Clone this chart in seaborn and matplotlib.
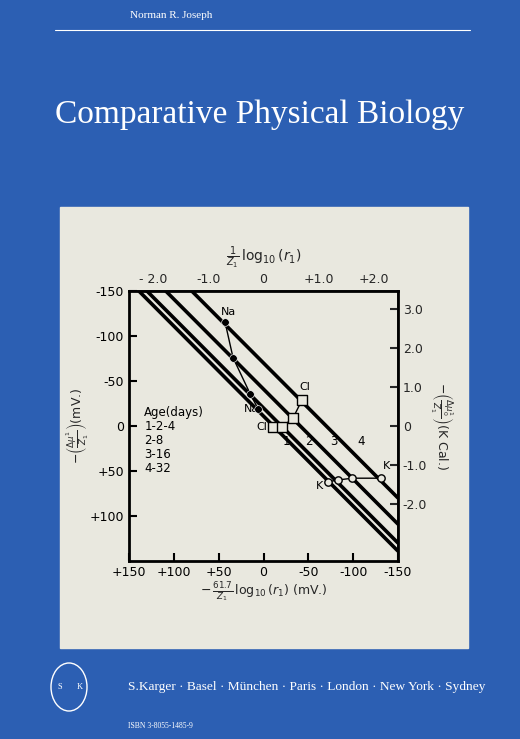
import numpy as np
import pandas as pd
import seaborn as sns
import matplotlib
matplotlib.use("Agg")
import matplotlib.pyplot as plt
from matplotlib.patches import Rectangle, Ellipse

# line offsets: y = -x + c  (mV)
line_names = ["1", "2", "3", "4"]
line_offsets = [-11, -20, -41, -70]

na_x = [43, 34, 15, 6]
na_y = [-116, -76, -36, -19]
cl_x = [-11, -21, -33, -43]
cl_y = [1, 1, -9, -29]
k_x = [-72, -83, -99, -131]
k_y = [62, 60, 58, 58]

age_labels = ["Age(days)", "1-2-4", "2-8", "3-16", "4-32"]

blue = "#2c5fb3"
paper = "#e9e8df"

sns.set_theme(style="white")
plt.rcParams['font.family'] = ['DejaVu Sans']
plt.rcParams['text.color'] = "black"

fig = plt.figure(figsize=(5.2, 7.39), dpi=100)
fig.patch.set_facecolor(blue)
fig.patches.append(Rectangle((60 / 520, 1 - 648 / 739), 408 / 520, 441 / 739,
                             transform=fig.transFigure, color=paper, zorder=-10))
fig.add_artist(plt.Line2D([55 / 520, 470 / 520], [1 - 30 / 739] * 2, color="white", lw=0.8))
fig.text(130 / 520, 1 - 16 / 739, "Norman R. Joseph", color="white", fontsize=8,
         family="Liberation Serif", va="center")
fig.text(0.5, 1 - 115 / 739, "Comparative Physical Biology", color="white", fontsize=24,
         family="Liberation Serif", ha="center", va="center")
fig.text(128 / 520, 1 - 687 / 739, "S.Karger · Basel · München · Paris · London · New York · Sydney",
         color="white", fontsize=9.6, family="Liberation Serif", va="center")
fig.text(128 / 520, 1 - 726 / 739, "ISBN 3-8055-1485-9", color="white", fontsize=5.5,
         family="Liberation Serif", va="center")
fig.patches.append(Ellipse((69 / 520, 1 - 687 / 739), 36 / 520, 48 / 739, transform=fig.transFigure,
                           fill=False, ec="white", lw=1))
fig.text(57 / 520, 1 - 687 / 739, "S", color="white", fontsize=6, family="Liberation Serif", va="center")
fig.text(77 / 520, 1 - 687 / 739, "K", color="white", fontsize=6, family="Liberation Serif", va="center")

ax = fig.add_axes([129 / 520, 1 - 561 / 739, 269 / 520, 270 / 739])
ax.set_zorder(5)
ax.set_facecolor(paper)
xs = np.array([150, -150])
for name, c in zip(line_names, line_offsets):
    df = pd.DataFrame({"x": xs, "y": -xs + c})
    sns.lineplot(data=df, x="x", y="y", ax=ax, color="black", lw=2.6, sort=False)

sns.lineplot(x=na_x, y=na_y, ax=ax, color="black", lw=1, sort=False)
sns.scatterplot(x=na_x, y=na_y, ax=ax, color="black", s=30, zorder=5)
sns.lineplot(x=cl_x, y=cl_y, ax=ax, color="black", lw=1, sort=False)
sns.scatterplot(x=cl_x, y=cl_y, ax=ax, marker="s", facecolor=paper, edgecolor="black", s=55,
                linewidth=1, zorder=5)
sns.lineplot(x=k_x, y=k_y, ax=ax, color="black", lw=1, sort=False)
sns.scatterplot(x=k_x, y=k_y, ax=ax, facecolor=paper, edgecolor="black", s=28, linewidth=1, zorder=5)

ax.set_xlim(150, -150)
ax.set_ylim(150, -150)
for s in ax.spines.values():
    s.set_color("black")
    s.set_linewidth(2)
ax.set_xticks([150, 100, 50, 0, -50, -100, -150])
ax.set_xticklabels(["+150", "+100", "+50", "0", "-50", "-100", "-150"])
ax.set_yticks([-150, -100, -50, 0, 50, 100])
ax.set_yticklabels(["-150", "-100", "-50", "0", "+50", "+100"])
ax.tick_params(direction="in", length=6, width=1.5, labelsize=9, colors="black", bottom=True, left=True)
ax.set_xlabel(r"$-\,\frac{61.7}{Z_1}\,\log_{10}(r_1)$ (mV.)", fontsize=9, labelpad=1)
ax.set_ylabel(r"$-\left(\frac{\Delta\mu^1}{Z_1}\right)$(mV.)", fontsize=9, labelpad=0)

top = ax.secondary_xaxis("top", functions=(lambda v: -v / 61.7, lambda v: -v * 61.7))
top.set_xticks([-2, -1, 0, 1, 2])
top.set_xticklabels(["- 2.0", "-1.0", "0", "+1.0", "+2.0"])
top.tick_params(length=0, labelsize=9)
top.set_xlabel(r"$\frac{1}{Z_1}\,\log_{10}(r_1)$", fontsize=10, labelpad=8)

right = ax.secondary_yaxis("right", functions=(lambda v: -v / 43.3, lambda v: -v * 43.3))
right.set_yticks([3, 2, 1, 0, -1, -2])
right.set_yticklabels(["3.0", "2.0", "1.0", "0", "-1.0", "-2.0"])
right.tick_params(direction="in", length=6, width=1.5, labelsize=9)
right.set_ylabel(r"$-\left(\frac{\Delta\mu_0^1}{Z_1}\right)$(K Cal.)", fontsize=9, rotation=-90, labelpad=20)

ax.text(39, -123, "Na", fontsize=8, ha="center")
ax.text(13, -15, "Na", fontsize=8, ha="center")
ax.text(-46, -40, "Cl", fontsize=8, ha="center")
ax.text(2, 5, "Cl", fontsize=8, ha="center")
ax.text(-137, 48, "K", fontsize=8, ha="center")
ax.text(-62, 70, "K", fontsize=8, ha="center")
for name, px in zip(line_names, [-26, -51, -79, -109]):
    ax.text(px, 21, name, fontsize=8.5, ha="center")
ax.text(133, 54, "\n".join(age_labels), fontsize=8.5, va="bottom", linespacing=1.1)

fig.savefig("out.png", dpi=100, facecolor=blue)
